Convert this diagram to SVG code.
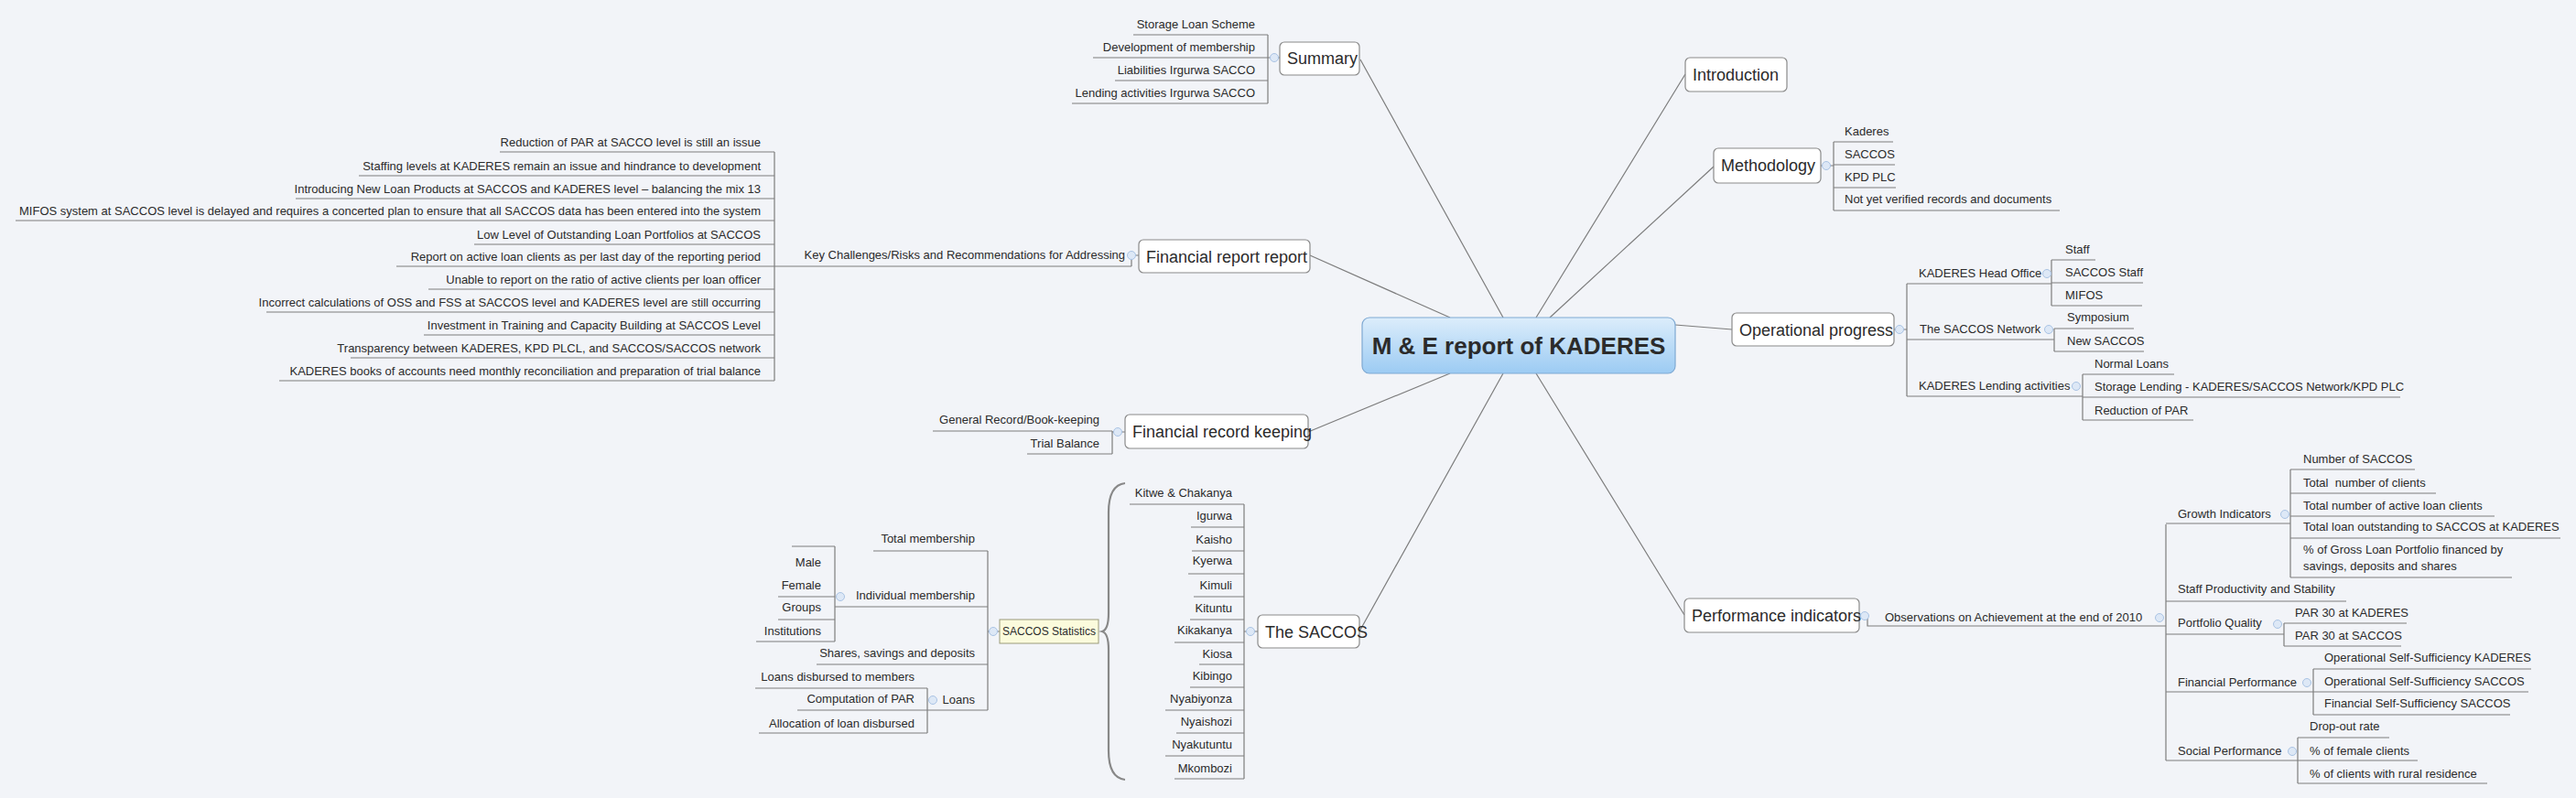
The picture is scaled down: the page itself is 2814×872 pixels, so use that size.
<svg xmlns="http://www.w3.org/2000/svg" width="2814" height="872" viewBox="0 0 2814 872">
<defs>
<linearGradient id="cg" x1="0" y1="0" x2="0" y2="1"><stop offset="0" stop-color="#dcedfb"/><stop offset="1" stop-color="#9ccbf3"/></linearGradient>
<style>
text{font-family:"Liberation Sans",Arial,sans-serif;fill:#2b2b2b}
.t{font-size:13px}
.r{text-anchor:end}
.n{font-size:18px}
.box{fill:#fff;stroke:#8a8a8a;stroke-width:1.2}
.l{fill:none;stroke:#7d7d7d;stroke-width:1.2}
.c{fill:#dde8f6;stroke:#a9c3e4;stroke-width:1}
</style>
</defs>
<rect width="2814" height="872" fill="#f2f4f8"/>
<g id="connectors" class="l">
<path d="M1486,65 L1642,347 M1841,81 L1678,347 M1872,182 L1693,347 M1830,355 L1892,360 M1431,279 L1584,347 M1584,408 L1429,472 M1642,408 L1485,690 M1678,408 L1840,672"/>
<!-- summary -->
<path d="M1385,38 V113 M1238,38 H1385 M1194,63 H1385 M1218,88 H1385 M1171,113 H1385 M1385,63 H1398"/>
<!-- key challenges -->
<path d="M846,166 V416 M546,166 H846 M392,192 H846 M323,217 H846 M17,241 H846 M518,267 H846 M433,291 H1236 M468,316 H846 M291,341 H846 M463,366 H846 M383,391 H846 M305,416 H846 M1236,291 V279 H1244"/>
<!-- record keeping -->
<path d="M1215,471 V496 M1019,471 H1215 M1122,496 H1215 M1215,472 H1229"/>
<!-- saccos -->
<path d="M1359,551 V851 M1359,690 H1374 M1234,551 H1359 M1301,576 H1359 M1302,602 H1359 M1298,627 H1359 M1304,652 H1359 M1300,677 H1359 M1283,702 H1359 M1310,726 H1359 M1300,751 H1359 M1273,776 H1359 M1285,801 H1359 M1273,826 H1359 M1283,851 H1359"/>
<path d="M1229,528 Q1211,530 1211,560 V670 Q1211,688 1204,690 Q1211,692 1211,710 V820 Q1211,850 1229,852" stroke-width="2.2" stroke="#888"/>
<!-- statistics -->
<path d="M1079,602 V776 M1079,690 H1092 M954,602 H1079 M912,663 H1079 M892,726 H1079 M1013,776 H1079 M912,597 V701 M865,597 H912 M850,652 H912 M850,677 H912 M826,701 H912 M1013,752 V801 M825,752 H1013 M871,776 H1013 M829,801 H1013"/>
<!-- methodology -->
<path d="M1989,181 H2003 M2003,155 V230 M2003,155 H2068 M2003,180 H2070 M2003,205 H2071 M2003,230 H2250"/>
<!-- operational -->
<path d="M2069,360 H2083 M2083,310 V433 M2083,310 H2241 M2083,371 H2244 M2083,433 H2275 M2241,284 V334 M2241,284 H2289 M2241,309 H2341 M2241,334 H2340 M2244,359 V384 M2244,359 H2331 M2244,384 H2342 M2275,409 V459 M2275,409 H2375 M2275,434 H2622 M2275,459 H2396"/>
<!-- performance -->
<path d="M2031,673 H2040 V684 H2366 M2366,573 V831 M2366,572 H2502 M2366,657 H2563 M2366,693 H2495 M2366,756 H2527 M2366,831 H2510 M2502,513 V631 M2502,513 H2638 M2502,539 H2661 M2502,564 H2725 M2502,588 H2797 M2502,631 H2744 M2495,681 V706 M2495,681 H2629 M2495,706 H2623 M2527,731 V781 M2527,731 H2765 M2527,756 H2762 M2527,781 H2742 M2510,806 V856 M2510,806 H2610 M2510,831 H2641 M2510,856 H2717"/>
</g>
<g id="collapse">
<circle class="c" cx="1392" cy="63" r="4.5"/><circle class="c" cx="1236" cy="279" r="4.5"/><circle class="c" cx="1221" cy="472" r="4.5"/><circle class="c" cx="1366" cy="690" r="4.5"/><circle class="c" cx="1085" cy="690" r="4.5"/><circle class="c" cx="918" cy="652" r="4.5"/><circle class="c" cx="1019" cy="765" r="4.5"/><circle class="c" cx="1995" cy="181" r="4.5"/><circle class="c" cx="2075" cy="360" r="4.5"/><circle class="c" cx="2236" cy="299" r="4.5"/><circle class="c" cx="2238" cy="360" r="4.5"/><circle class="c" cx="2268" cy="422" r="4.5"/><circle class="c" cx="2037" cy="673" r="4.5"/><circle class="c" cx="2359" cy="675" r="4.5"/><circle class="c" cx="2496" cy="562" r="4.5"/><circle class="c" cx="2488" cy="682" r="4.5"/><circle class="c" cx="2520" cy="746" r="4.5"/><circle class="c" cx="2504" cy="821" r="4.5"/>
</g>
<g id="central"><rect x="1488" y="347" width="342" height="61" rx="8" fill="url(#cg)" stroke="#7fa9d3" stroke-width="1.2"/><text x="1659" y="387" text-anchor="middle" font-size="26" font-weight="bold" fill="#333">M &amp; E report of KADERES</text></g>
<g id="summary"><rect class="box" x="1398" y="46" width="87" height="36" rx="5"/><text class="n" x="1406" y="70">Summary</text>
<text class="t r" x="1371" y="31">Storage Loan Scheme</text><text class="t r" x="1371" y="56">Development of membership</text><text class="t r" x="1371" y="81">Liabilities Irgurwa SACCO</text><text class="t r" x="1371" y="106">Lending activities Irgurwa SACCO</text></g>
<g id="introduction"><rect class="box" x="1841" y="63" width="111" height="37" rx="5"/><text class="n" x="1849" y="88">Introduction</text></g>
<g id="methodology"><rect class="box" x="1872" y="162" width="117" height="38" rx="5"/><text class="n" x="1880" y="187">Methodology</text>
<text class="t" x="2015" y="148">Kaderes</text><text class="t" x="2015" y="173">SACCOS</text><text class="t" x="2015" y="198">KPD PLC</text><text class="t" x="2015" y="222">Not yet verified records and documents</text></g>
<g id="operational"><rect class="box" x="1892" y="342" width="177" height="36" rx="5"/><text class="n" x="1900" y="367">Operational progress</text>
<text class="t" x="2096" y="303">KADERES Head Office</text><text class="t" x="2256" y="277">Staff</text><text class="t" x="2256" y="302">SACCOS Staff</text><text class="t" x="2256" y="327">MIFOS</text>
<text class="t" x="2097" y="364">The SACCOS Network</text><text class="t" x="2258" y="351">Symposium</text><text class="t" x="2258" y="377">New SACCOS</text>
<text class="t" x="2096" y="426">KADERES Lending activities</text><text class="t" x="2288" y="402">Normal Loans</text><text class="t" x="2288" y="427">Storage Lending - KADERES/SACCOS Network/KPD PLC</text><text class="t" x="2288" y="453">Reduction of PAR</text></g>
<g id="performance"><rect class="box" x="1840" y="654" width="191" height="37" rx="5"/><text class="n" x="1848" y="679">Performance indicators</text>
<text class="t" x="2059" y="679">Observations on Achievement at the end of 2010</text>
<text class="t" x="2379" y="566">Growth Indicators</text><text class="t" x="2516" y="506">Number of SACCOS</text><text class="t" x="2516" y="532" xml:space="preserve">Total  number of clients</text><text class="t" x="2516" y="557">Total number of active loan clients</text><text class="t" x="2516" y="580">Total loan outstanding to SACCOS at KADERES</text><text class="t" x="2516" y="605">% of Gross Loan Portfolio financed by</text><text class="t" x="2516" y="623">savings, deposits and shares</text>
<text class="t" x="2379" y="648">Staff Productivity and Stability</text>
<text class="t" x="2379" y="685">Portfolio Quality</text><text class="t" x="2507" y="674">PAR 30 at KADERES</text><text class="t" x="2507" y="699">PAR 30 at SACCOS</text>
<text class="t" x="2379" y="750">Financial Performance</text><text class="t" x="2539" y="723">Operational Self-Sufficiency KADERES</text><text class="t" x="2539" y="749">Operational Self-Sufficiency SACCOS</text><text class="t" x="2539" y="773">Financial Self-Sufficiency SACCOS</text>
<text class="t" x="2379" y="825">Social Performance</text><text class="t" x="2523" y="798">Drop-out rate</text><text class="t" x="2523" y="825">% of female clients</text><text class="t" x="2523" y="850">% of clients with rural residence</text></g>
<g id="financial-report"><rect class="box" x="1244" y="262" width="187" height="36" rx="5"/><text class="n" x="1252" y="287">Financial report report</text>
<text class="t r" x="1229" y="283">Key Challenges/Risks and Recommendations for Addressing</text>
<text class="t r" x="831" y="160">Reduction of PAR at SACCO level is still an issue</text>
<text class="t r" x="831" y="186">Staffing levels at KADERES remain an issue and hindrance to development</text>
<text class="t r" x="831" y="211">Introducing New Loan Products at SACCOS and KADERES level – balancing the mix 13</text>
<text class="t r" x="831" y="235" textLength="810" lengthAdjust="spacingAndGlyphs">MIFOS system at SACCOS level is delayed and requires a concerted plan to ensure that all SACCOS data has been entered into the system</text>
<text class="t r" x="831" y="261">Low Level of Outstanding Loan Portfolios at SACCOS</text>
<text class="t r" x="831" y="285">Report on active loan clients as per last day of the reporting period</text>
<text class="t r" x="831" y="310">Unable to report on the ratio of active clients per loan officer</text>
<text class="t r" x="831" y="335">Incorrect calculations of OSS and FSS at SACCOS level and KADERES level are still occurring</text>
<text class="t r" x="831" y="360">Investment in Training and Capacity Building at SACCOS Level</text>
<text class="t r" x="831" y="385">Transparency between KADERES, KPD PLCL, and SACCOS/SACCOS network</text>
<text class="t r" x="831" y="410">KADERES books of accounts need monthly reconciliation and preparation of trial balance</text></g>
<g id="record-keeping"><rect class="box" x="1229" y="453" width="200" height="37" rx="5"/><text class="n" x="1237" y="478">Financial record keeping</text>
<text class="t r" x="1201" y="463">General Record/Book-keeping</text><text class="t r" x="1201" y="489">Trial Balance</text></g>
<g id="the-saccos"><rect class="box" x="1374" y="672" width="111" height="36" rx="5"/><text class="n" x="1382" y="697">The SACCOS</text>
<text class="t r" x="1346" y="543">Kitwe &amp; Chakanya</text><text class="t r" x="1346" y="568">Igurwa</text><text class="t r" x="1346" y="594">Kaisho</text><text class="t r" x="1346" y="617">Kyerwa</text><text class="t r" x="1346" y="644">Kimuli</text><text class="t r" x="1346" y="669">Kituntu</text><text class="t r" x="1346" y="693">Kikakanya</text><text class="t r" x="1346" y="719">Kiosa</text><text class="t r" x="1346" y="743">Kibingo</text><text class="t r" x="1346" y="768">Nyabiyonza</text><text class="t r" x="1346" y="793">Nyaishozi</text><text class="t r" x="1346" y="818">Nyakutuntu</text><text class="t r" x="1346" y="844">Mkombozi</text></g>
<g id="saccos-statistics"><rect x="1092" y="677" width="108" height="26" fill="#fbfbdc" stroke="#9a9a7a" stroke-width="1"/><text x="1146" y="694" text-anchor="middle" font-size="12" fill="#5a4a20">SACCOS Statistics</text>
<text class="t r" x="1065" y="593">Total membership</text><text class="t r" x="1065" y="655">Individual membership</text><text class="t r" x="1065" y="718">Shares, savings and deposits</text><text class="t r" x="1065" y="769">Loans</text>
<text class="t r" x="897" y="619">Male</text><text class="t r" x="897" y="644">Female</text><text class="t r" x="897" y="668">Groups</text><text class="t r" x="897" y="694">Institutions</text>
<text class="t r" x="999" y="744">Loans disbursed to members</text><text class="t r" x="999" y="768">Computation of PAR</text><text class="t r" x="999" y="795">Allocation of loan disbursed</text></g>
</svg>
